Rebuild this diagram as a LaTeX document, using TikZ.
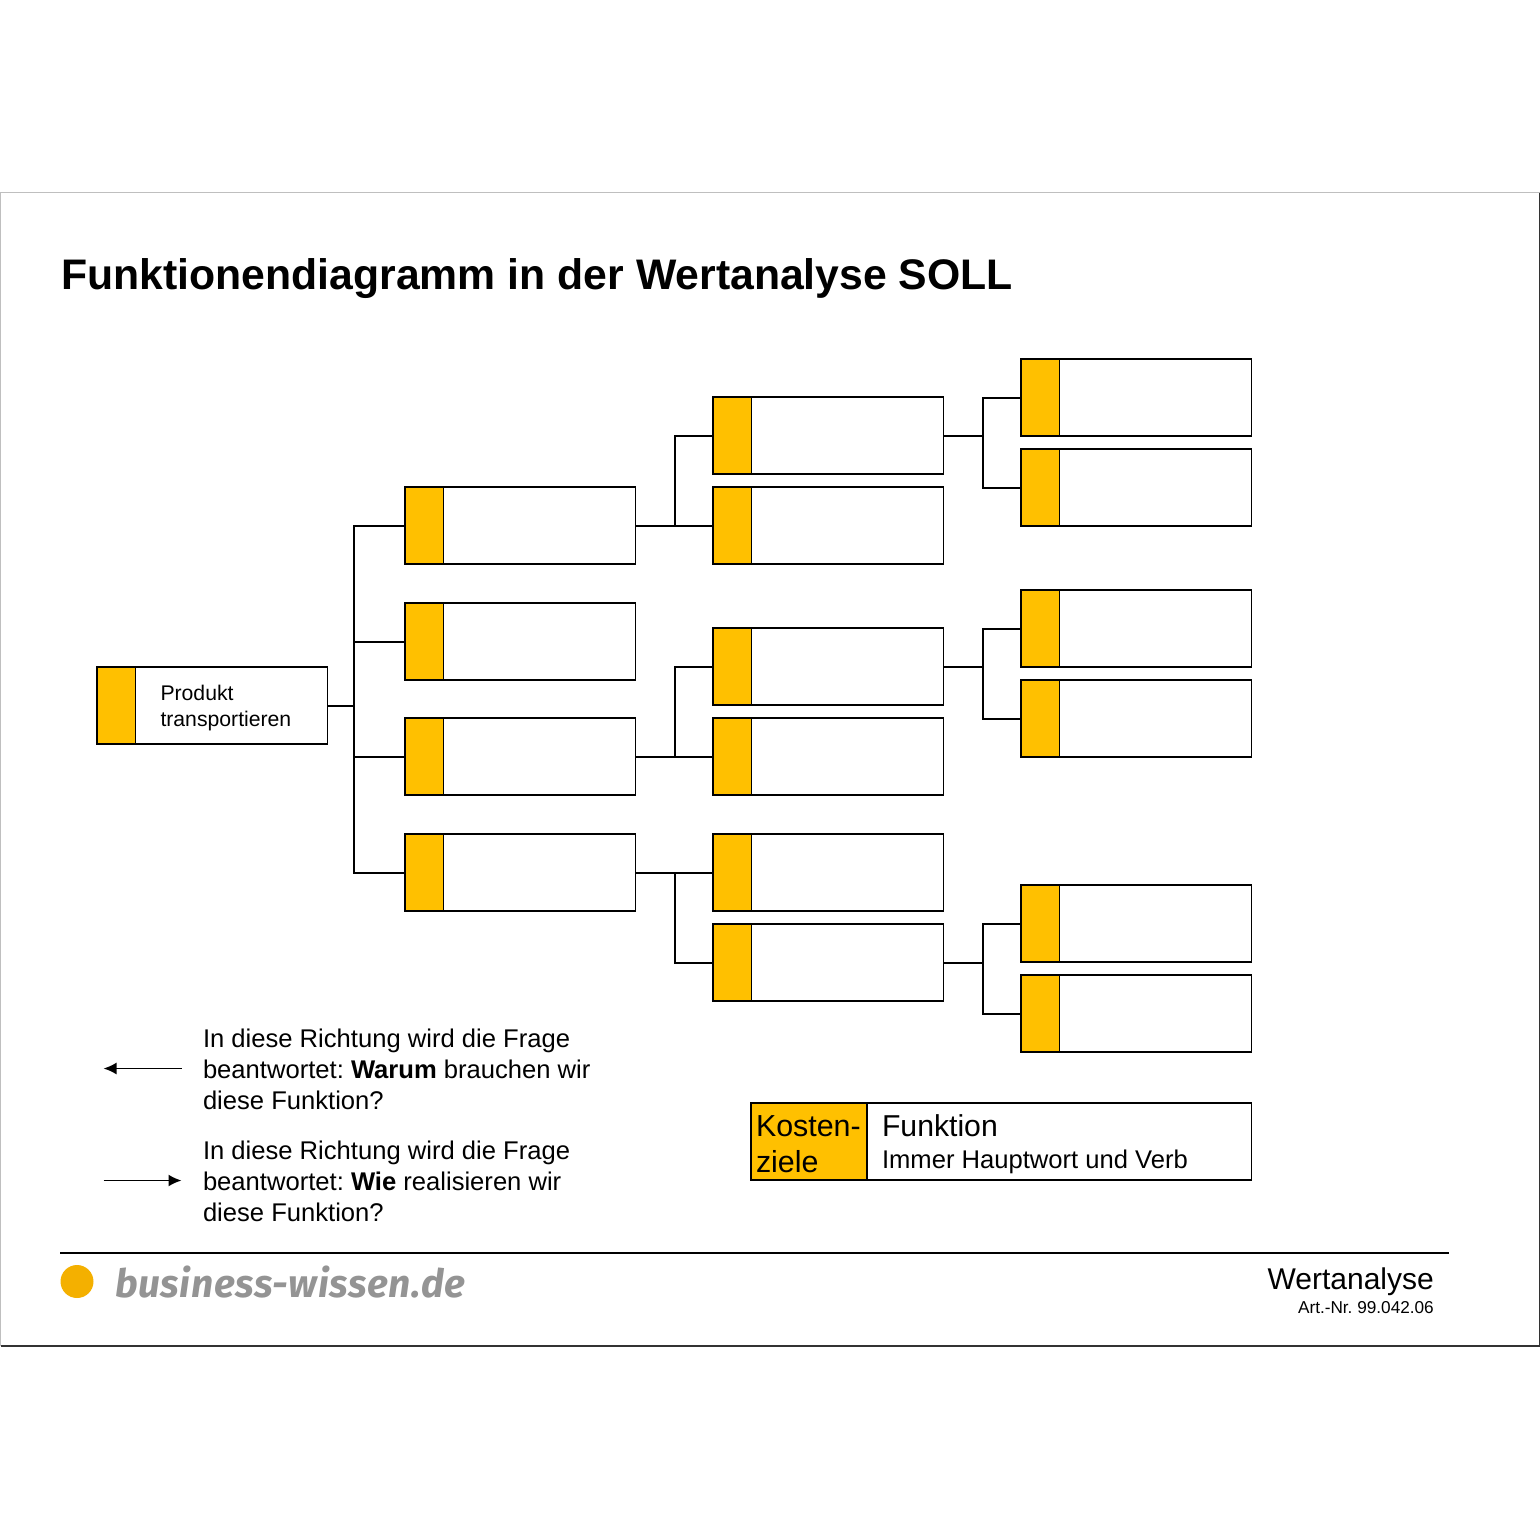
\documentclass[tikz,border=0pt]{standalone}
\usepackage{fontspec}
\setmainfont{Liberation Sans}
\newfontfamily\logofont[LetterSpace=1.5]{Fira Sans}
\usetikzlibrary{arrows.meta,positioning}
\definecolor{fgold}{HTML}{FFC000}
\definecolor{lgold}{HTML}{F4B000}
\definecolor{lgray}{HTML}{949494}
\tikzset{
  x=1pt,y=-1pt,
  fnbox/.style={draw=black,line width=1.6pt,fill=white,minimum width=230.5pt,minimum height=77pt,inner sep=0pt,outer sep=0pt,anchor=north west},
  fntab/.style={draw=black,line width=1.6pt,fill=fgold,minimum width=38.5pt,minimum height=77pt,inner sep=0pt,outer sep=0pt,anchor=north west},
  conn/.style={draw=black,line width=2pt},
  txt/.style={inner sep=0pt,outer sep=0pt,anchor=base west,font=\fontsize{25.6}{31}\selectfont},
}
\newcommand{\fnode}[3]{%
  \node[fnbox] (#1) at (#2,#3) {};
  \node[fntab] (#1t) at (#2,#3) {};
}
\begin{document}
\frenchspacing
\begin{tikzpicture}
\useasboundingbox (0,0) rectangle (1540,1540);
\fill[white] (0,0) rectangle (1540,1540);
% frame
\coordinate (ftl) at (0.5,192.5);
\coordinate (ftr) at (1539.5,192.5);
\coordinate (fbl) at (0.5,1346);
\coordinate (fbr) at (1539.5,1346);
\draw[line width=1.2pt,draw=black!25] (fbl) -- (ftl) -- (ftr);
\draw[line width=1.5pt,draw=black!80] (ftr) -- (fbr) -- (fbl);
% title
\node[inner sep=0pt,anchor=base west,font=\fontsize{42.75}{50}\selectfont\bfseries] (title) at (61,289.5) {Funktionendiagramm in der Wertanalyse SOLL};
% function boxes
\fnode{root}{97}{667}
\fnode{a}{405}{487}
\fnode{b}{405}{603}
\fnode{c}{405}{718}
\fnode{d}{405}{834}
\fnode{aa}{713}{397}
\fnode{ab}{713}{487}
\fnode{ca}{713}{628}
\fnode{cb}{713}{718}
\fnode{da}{713}{834}
\fnode{db}{713}{924}
\fnode{aaa}{1021}{359}
\fnode{aab}{1021}{449}
\fnode{caa}{1021}{590}
\fnode{cab}{1021}{680}
\fnode{dba}{1021}{885}
\fnode{dbb}{1021}{975}
\node[txt,font=\fontsize{21.2}{26.5}\selectfont,align=left,anchor=north west] (roottext) at (160.5,685) {Produkt\\transportieren};
% connectors
\coordinate (busA) at (353.5,705.5);
\draw[conn] (root.east) -- (busA);
\draw[conn] (a.west) -| (busA);
\draw[conn] (b.west) -| (busA);
\draw[conn] (c.west) -| (busA);
\draw[conn] (d.west) -| (busA);
\coordinate (busa) at (674.5,525.5);
\draw[conn] (a.east) -- (ab.west);
\draw[conn] (aa.west) -| (busa);
\coordinate (busc) at (674.5,756.5);
\draw[conn] (c.east) -- (cb.west);
\draw[conn] (ca.west) -| (busc);
\coordinate (busd) at (674.5,872.5);
\draw[conn] (d.east) -- (da.west);
\draw[conn] (db.west) -| (busd);
\coordinate (busaa) at (982.5,435.5);
\draw[conn] (aa.east) -- (busaa);
\draw[conn] (aaa.west) -| (busaa);
\draw[conn] (aab.west) -| (busaa);
\coordinate (busca) at (982.5,666.5);
\draw[conn] (ca.east) -- (busca);
\draw[conn] (caa.west) -| (busca);
\draw[conn] (cab.west) -| (busca);
\coordinate (busdb) at (982.5,962.5);
\draw[conn] (db.east) -- (busdb);
\draw[conn] (dba.west) -| (busdb);
\draw[conn] (dbb.west) -| (busdb);
% direction arrows and notes
\coordinate (ar1a) at (181.5,1068.5);
\coordinate (ar1b) at (103.5,1068.5);
\coordinate (ar2a) at (103.5,1180.5);
\coordinate (ar2b) at (181.5,1180.5);
\draw[line width=1.8pt,-{Latex[length=13pt,width=12pt]}] (ar1a) -- (ar1b);
\draw[line width=1.8pt,-{Latex[length=13pt,width=12pt]}] (ar2a) -- (ar2b);
\node[txt,align=left,anchor=north west] (n1) at (203,1029) {In diese Richtung wird die Frage\\beantwortet: \textbf{Warum} brauchen wir\\diese Funktion?};
\node[txt,align=left,anchor=north west] (n2) at (203,1141) {In diese Richtung wird die Frage\\beantwortet: \textbf{Wie} realisieren wir\\diese Funktion?};
% legend
\node[draw=black,line width=1.6pt,fill=white,minimum width=500.5pt,minimum height=77pt,inner sep=0pt,outer sep=0pt,anchor=north west] (lg) at (751,1103) {};
\node[draw=black,line width=1.6pt,fill=fgold,minimum width=116pt,minimum height=77pt,inner sep=0pt,outer sep=0pt,anchor=north west] (lgt) at (751,1103) {};
\node[txt,font=\fontsize{30.4}{36}\selectfont] (k1) at (756,1136) {Kosten-};
\node[txt,font=\fontsize{30.4}{36}\selectfont] (k2) at (756,1172) {ziele};
\node[txt,font=\fontsize{30.2}{36}\selectfont] (f1) at (882,1136) {Funktion};
\node[txt] (f2) at (882,1168) {Immer Hauptwort und Verb};
% footer
\coordinate (rl) at (60,1253);
\coordinate (rr) at (1449,1253);
\draw[line width=2pt] (rl) -- (rr);
\node[circle,fill=lgold,minimum size=33pt,inner sep=0pt] (dot) at (77,1281.5) {};
\node[inner sep=0pt,anchor=base west,text=lgray,font=\logofont\fontsize{39}{44}\selectfont\bfseries\itshape] (logo) at (115,1297) {business-wissen.de};
\node[inner sep=0pt,anchor=base east,font=\fontsize{30}{36}\selectfont] (w) at (1434,1289) {Wertanalyse};
\node[inner sep=0pt,anchor=base east,font=\fontsize{17.2}{21}\selectfont] (art) at (1434,1313) {Art.-Nr. 99.042.06};
\end{tikzpicture}
\end{document}
